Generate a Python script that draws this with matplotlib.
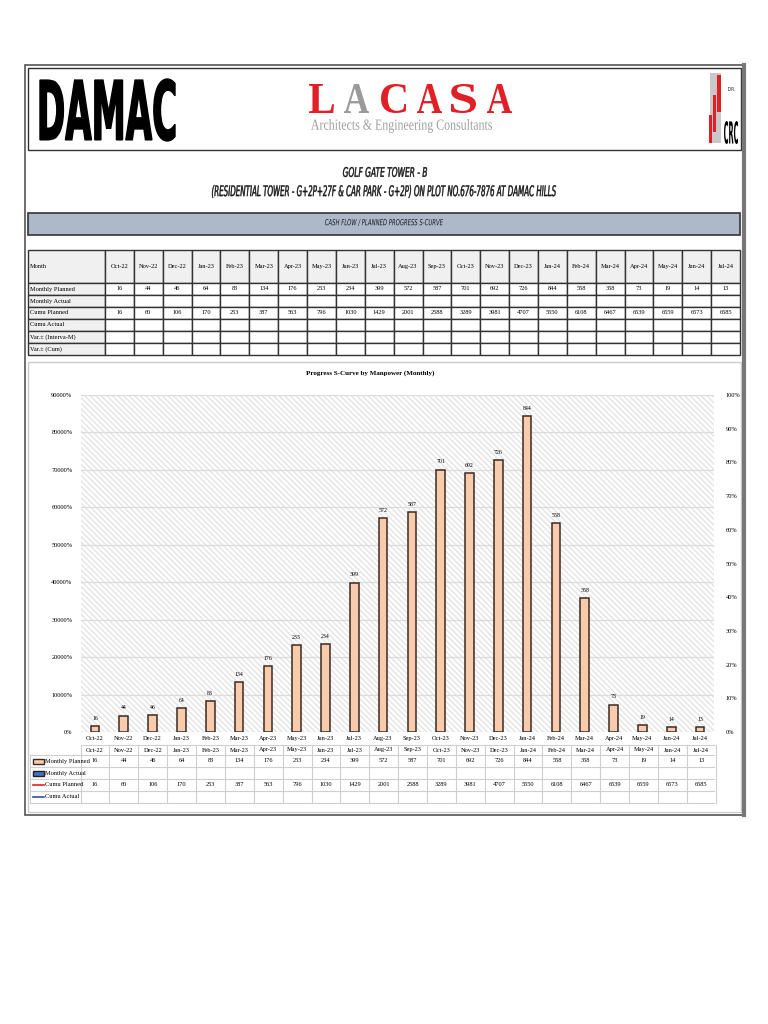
import numpy as np
import matplotlib
matplotlib.use('Agg')
import matplotlib.pyplot as plt
from matplotlib.textpath import TextPath
from matplotlib.patches import PathPatch, Rectangle
from matplotlib.font_manager import FontProperties
from matplotlib.transforms import Affine2D
from matplotlib.ticker import FuncFormatter, MultipleLocator

# --------- data --------

months = ['Oct-22', 'Nov-22', 'Dec-22', 'Jan-23', 'Feb-23', 'Mar-23', 'Apr-23', 'May-23',
          'Jun-23', 'Jul-23', 'Aug-23', 'Sep-23', 'Oct-23', 'Nov-23', 'Dec-23', 'Jan-24',
          'Feb-24', 'Mar-24', 'Apr-24', 'May-24', 'Jun-24', 'Jul-24']
monthly_planned = [16, 44, 46, 64, 83, 134, 176, 233, 234, 399, 572, 587, 701, 692, 726, 844,
                   558, 358, 73, 19, 14, 13]
cumu_planned = [16, 60, 106, 170, 253, 387, 563, 796, 1030, 1429, 2001, 2588, 3289, 3981, 4707,
                5550, 6108, 6467, 6539, 6559, 6573, 6585]
top_rows = ['Monthly Planned', 'Monthly Actual', 'Cumu Planned', 'Cumu Actual',
            'Var.\u00b1 (Interva-M)', 'Var.\u00b1 (Cum)']
bottom_rows = ['Monthly Planned', 'Monthly Actual', 'Cumu Planned', 'Cumu Actual']

title1 = 'GOLF GATE TOWER - B'
title2 = '(RESIDENTIAL TOWER - G+2P+27F & CAR PARK - G+2P) ON PLOT NO.676-7876 AT DAMAC HILLS'
banner = 'CASH FLOW / PLANNED PROGRESS S-CURVE'
chart_title = 'Progress S-Curve by Manpower (Monthly)'

# --------- style --------

sans = ['DejaVu Sans']
serif = ['Liberation Serif', 'DejaVu Serif']
bar_fill = '#F8CBAD'
bar_edge = '#3b2a22'
grid_c = '#dcdcdc'
tsz = 4.6

W, H = 768, 1024
fig = plt.figure(figsize=(W / 100, H / 100), dpi=100)
bg = fig.add_axes([0, 0, 1, 1])
bg.set_xlim(0, W)
bg.set_ylim(H, 0)
bg.axis('off')


def box(x0, y0, x1, y1, fc='none', ec='#333333', lw=1.0, z=1):
    bg.add_patch(Rectangle((x0, y0), x1 - x0, y1 - y0, facecolor=fc, edgecolor=ec, lw=lw, zorder=z))


def fit_text(s, x0, y0, x1, y1, color, family, weight='normal', style='normal', stroke=0):
    # squeeze a text path into a pixel box (no condensed fonts installed)
    fp = FontProperties(family=family, weight=weight, style=style)
    tp = TextPath((0, 0), s, prop=fp, size=50)
    bb = tp.get_extents()
    sx = (x1 - x0) / bb.width
    sy = (y1 - y0) / bb.height
    tr = Affine2D().translate(-bb.x0, -bb.y0).scale(sx, -sy).translate(x0, y1)
    ec = color if stroke > 0 else 'none'
    bg.add_patch(PathPatch(tr.transform_path(tp), facecolor=color, edgecolor=ec, lw=stroke,
                           zorder=3))


# --------- page frame + header --------

box(25, 65, 745, 815, ec='#555555', lw=1.2)
bg.plot([744, 744], [65, 815], color='#777777', lw=3)
box(28, 68, 741, 150, ec='#333333', lw=1.0)

fit_text('DAMAC', 40, 79, 175, 141, 'black', sans, weight='bold', stroke=1.0)
lx = [310, 345, 382, 418, 452, 488]
cols = ['#e02026', '#9a9a9a', '#e02026', '#e02026', '#e02026', '#e02026']
for i, ch in enumerate('LACASA'):
    fit_text(ch, lx[i] - 1, 84, lx[i] + 24, 113, cols[i], serif, weight='bold')
fit_text('Architects & Engineering Consultants', 311, 119, 492, 133, '#a0a0a0', serif)

# small crc logo
box(710, 73, 721, 143, fc='#c8c8c8', ec='none')
box(717, 75, 721, 112, fc='#e02026', ec='none')
box(713, 95, 716, 132, fc='#e02026', ec='none')
box(709, 115, 712, 143, fc='#e02026', ec='none')
fit_text('DR.', 728, 87, 735, 91, '#333333', sans)
fit_text('CRC', 724, 121, 738, 144, 'black', sans, weight='bold')

# titles
fit_text(title1, 343, 167, 427, 177, '#1a1a1a', sans, style='italic', stroke=0.3)
fit_text(title2, 212, 185, 556, 198, '#1a1a1a', sans, style='italic', stroke=0.3)
box(28, 213, 740, 235, fc='#adb9ca', ec='#333333', lw=1.2)
fit_text(banner, 325, 219, 443, 226, '#1a1a1a', sans, style='italic')

# --------- top table --------

tx0, tx1 = 28, 740
lab_w = 105
ncol = len(months)
cw = (tx1 - lab_w) / ncol
hy0, hy1 = 250, 283
rh = 12

box(tx0, hy0, lab_w, hy1, fc='#f0f0f0', ec='#333333', lw=1.0)
bg.text(tx0 + 2, (hy0 + hy1) / 2, 'Month', fontsize=tsz, va='center', family=serif)
for j, m in enumerate(months):
    x = lab_w + j * cw
    box(x, hy0, x + cw, hy1, fc='#f0f0f0', ec='#333333', lw=1.0)
    bg.text(x + cw / 2, (hy0 + hy1) / 2, m, fontsize=tsz, ha='center', va='center', family=serif)

for i, r in enumerate(top_rows):
    y = hy1 + i * rh
    box(tx0, y, lab_w, y + rh, fc='#f0f0f0', ec='#333333', lw=1.0)
    bg.text(tx0 + 2, y + rh / 2, r, fontsize=tsz, va='center', family=serif)
    vals = None
    if r == 'Monthly Planned':
        vals = monthly_planned
    elif r == 'Cumu Planned':
        vals = cumu_planned
    for j in range(ncol):
        x = lab_w + j * cw
        box(x, y, x + cw, y + rh, fc='white', ec='#333333', lw=1.0)
        if vals is not None:
            bg.text(x + cw / 2, y + rh / 2, str(vals[j]), fontsize=tsz, ha='center',
                    va='center', family=serif)

# --------- chart --------

box(28, 362, 741, 812, fc='white', ec='#cccccc', lw=1.0, z=0)
fig.text(370 / W, 1 - 373 / H, chart_title, ha='center', va='center', fontsize=5,
         family=serif, weight='bold')

px0, px1 = 80.6, 714.4
py0, py1 = 395, 732
ax = fig.add_axes([px0 / W, 1 - py1 / H, (px1 - px0) / W, (py1 - py0) / H])
ax.set_facecolor('none')
ax.add_patch(Rectangle((0, 0), 1, 1, transform=ax.transAxes, facecolor='white',
                       edgecolor='#e4e4e4', hatch='\\\\\\\\\\\\', lw=0, zorder=0))
xs = np.arange(ncol)
ax.bar(xs, monthly_planned, width=0.3, color=bar_fill, edgecolor=bar_edge, lw=1.1, zorder=3)
for xi, v in zip(xs, monthly_planned):
    ax.text(xi, v + 14, str(v), fontsize=tsz - 0.4, ha='center', va='bottom', family=serif)
ax.set_xlim(-0.5, ncol - 0.5)
ax.set_ylim(0, 900)
ax.yaxis.set_major_locator(MultipleLocator(100))
ax.yaxis.set_major_formatter(FuncFormatter(lambda v, p: '%d%%' % round(v * 100)))
ax.grid(axis='y', color=grid_c, lw=0.9, zorder=1)
ax.set_axisbelow(True)
ax.set_xticks(xs)
ax.set_xticklabels(months, fontsize=tsz, family=serif)
ax.tick_params(axis='both', length=0, pad=3)
ax.tick_params(axis='y', labelsize=tsz, pad=6)
for lab in ax.get_yticklabels():
    lab.set_family(serif)
for s in ax.spines.values():
    s.set_visible(False)

ax2 = ax.twinx()
ax2.set_ylim(0, 1)
ax2.yaxis.set_major_locator(MultipleLocator(0.1))
ax2.yaxis.set_major_formatter(FuncFormatter(lambda v, p: '%d%%' % round(v * 100)))
ax2.tick_params(axis='y', length=0, labelsize=tsz, pad=8)
for lab in ax2.get_yticklabels():
    lab.set_family(serif)
for s in ax2.spines.values():
    s.set_visible(False)

# --------- bottom data table --------

by0 = 745
brh = 12
bx0 = 30
line_c = '#cfcfcf'
bg.plot([px0, px1], [by0, by0], color=line_c, lw=0.8)
for j, m in enumerate(months):
    x = px0 + j * cw
    bg.text(x + cw / 2, by0 + 5, m, fontsize=tsz, ha='center', va='center', family=serif)
nrow = len(bottom_rows)
for i in range(nrow + 1):
    y = by0 + 10 + i * brh
    bg.plot([bx0, px1], [y, y], color=line_c, lw=0.8)
bottom_y = by0 + 10 + nrow * brh
for j in range(ncol + 1):
    x = px0 + j * cw
    bg.plot([x, x], [by0, bottom_y], color=line_c, lw=0.8)
bg.plot([bx0, bx0], [by0 + 10, bottom_y], color=line_c, lw=0.8)

for i, r in enumerate(bottom_rows):
    y = by0 + 10 + i * brh + brh / 2
    if r == 'Monthly Planned':
        box(bx0 + 3, y - 2.5, bx0 + 14, y + 2.5, fc=bar_fill, ec=bar_edge, lw=1.0, z=3)
        vals = monthly_planned
    elif r == 'Monthly Actual':
        box(bx0 + 3, y - 2.5, bx0 + 14, y + 2.5, fc='#4472c4', ec='#222222', lw=1.0, z=3)
        vals = None
    elif r == 'Cumu Planned':
        bg.plot([bx0 + 3, bx0 + 14], [y, y], color='#e02026', lw=1.2)
        vals = cumu_planned
    else:
        bg.plot([bx0 + 3, bx0 + 14], [y, y], color='#2f5597', lw=1.2)
        vals = None
    bg.text(bx0 + 15, y, r, fontsize=tsz, va='center', family=serif)
    if vals is not None:
        for j in range(ncol):
            x = px0 + j * cw
            bg.text(x + cw / 2, y, str(vals[j]), fontsize=tsz, ha='center', va='center',
                    family=serif)

fig.savefig('out.png', dpi=100)
